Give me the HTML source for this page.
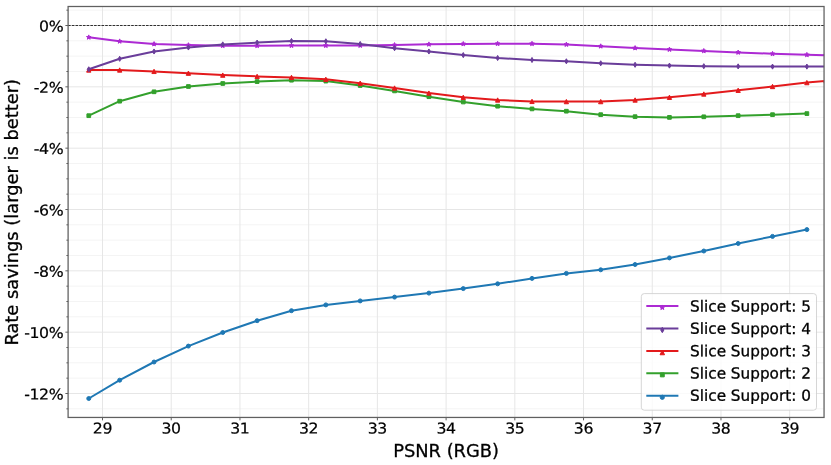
<!DOCTYPE html>
<html lang="en"><head><meta charset="utf-8"><title>Rate savings vs PSNR (RGB)</title>
<style>html,body{margin:0;padding:0;background:#fff;}body{width:831px;height:465px;overflow:hidden;}svg{display:block;}text{font-family:"DejaVu Sans","Liberation Sans",sans-serif;fill:#000;stroke:#000;stroke-width:0.3px;}.tk{font-size:14.9px;letter-spacing:-0.4px;stroke-width:0.22px;}.lg{font-size:15.25px;stroke-width:0.3px;}.lb{font-size:17.85px;}</style></head><body>
<svg width="831" height="465" viewBox="0 0 831 465">
<rect width="831" height="465" fill="#fff"/>
<defs><clipPath id="ax"><rect x="68.10" y="6.50" width="755.95" height="410.95"/></clipPath></defs>
<g clip-path="url(#ax)">
<path d="M68.10 10.17H824.05M68.10 40.83H824.05M68.10 56.17H824.05M68.10 71.50H824.05M68.10 102.17H824.05M68.10 117.50H824.05M68.10 132.83H824.05M68.10 163.50H824.05M68.10 178.84H824.05M68.10 194.17H824.05M68.10 224.84H824.05M68.10 240.17H824.05M68.10 255.50H824.05M68.10 286.17H824.05M68.10 301.50H824.05M68.10 316.84H824.05M68.10 347.50H824.05M68.10 362.84H824.05M68.10 378.17H824.05M68.10 408.84H824.05" stroke="#f4f4f4" stroke-width="1" fill="none"/>
<path d="M68.10 25.50H824.05M68.10 86.83H824.05M68.10 148.17H824.05M68.10 209.50H824.05M68.10 270.84H824.05M68.10 332.17H824.05M68.10 393.50H824.05M102.50 6.50V417.45M171.22 6.50V417.45M239.94 6.50V417.45M308.66 6.50V417.45M377.38 6.50V417.45M446.10 6.50V417.45M514.82 6.50V417.45M583.54 6.50V417.45M652.26 6.50V417.45M720.98 6.50V417.45M789.70 6.50V417.45" stroke="#e6e6e6" stroke-width="1" fill="none"/>
<path d="M68.10 25.50H824.05" stroke="#000" stroke-width="0.8" stroke-dasharray="2.6 1.11" fill="none"/>
<path d="M88.76 398.50 L119.68 380.20 L154.04 362.00 L188.40 346.10 L222.76 332.50 L257.12 320.70 L291.48 310.70 L325.84 304.90 L360.20 300.90 L394.56 297.10 L428.92 293.10 L463.28 288.60 L497.64 283.80 L532.00 278.40 L566.36 273.40 L600.72 269.80 L635.08 264.50 L669.44 257.90 L703.80 251.00 L738.16 243.50 L772.52 236.40 L806.88 229.60" stroke="#1f78b4" stroke-width="2.00" fill="none" stroke-linejoin="round" stroke-linecap="butt"/>
<path d="M86.76 398.50 a2.00 2.00 0 1 0 4.00 0 a2.00 2.00 0 1 0 -4.00 0ZM117.68 380.20 a2.00 2.00 0 1 0 4.00 0 a2.00 2.00 0 1 0 -4.00 0ZM152.04 362.00 a2.00 2.00 0 1 0 4.00 0 a2.00 2.00 0 1 0 -4.00 0ZM186.40 346.10 a2.00 2.00 0 1 0 4.00 0 a2.00 2.00 0 1 0 -4.00 0ZM220.76 332.50 a2.00 2.00 0 1 0 4.00 0 a2.00 2.00 0 1 0 -4.00 0ZM255.12 320.70 a2.00 2.00 0 1 0 4.00 0 a2.00 2.00 0 1 0 -4.00 0ZM289.48 310.70 a2.00 2.00 0 1 0 4.00 0 a2.00 2.00 0 1 0 -4.00 0ZM323.84 304.90 a2.00 2.00 0 1 0 4.00 0 a2.00 2.00 0 1 0 -4.00 0ZM358.20 300.90 a2.00 2.00 0 1 0 4.00 0 a2.00 2.00 0 1 0 -4.00 0ZM392.56 297.10 a2.00 2.00 0 1 0 4.00 0 a2.00 2.00 0 1 0 -4.00 0ZM426.92 293.10 a2.00 2.00 0 1 0 4.00 0 a2.00 2.00 0 1 0 -4.00 0ZM461.28 288.60 a2.00 2.00 0 1 0 4.00 0 a2.00 2.00 0 1 0 -4.00 0ZM495.64 283.80 a2.00 2.00 0 1 0 4.00 0 a2.00 2.00 0 1 0 -4.00 0ZM530.00 278.40 a2.00 2.00 0 1 0 4.00 0 a2.00 2.00 0 1 0 -4.00 0ZM564.36 273.40 a2.00 2.00 0 1 0 4.00 0 a2.00 2.00 0 1 0 -4.00 0ZM598.72 269.80 a2.00 2.00 0 1 0 4.00 0 a2.00 2.00 0 1 0 -4.00 0ZM633.08 264.50 a2.00 2.00 0 1 0 4.00 0 a2.00 2.00 0 1 0 -4.00 0ZM667.44 257.90 a2.00 2.00 0 1 0 4.00 0 a2.00 2.00 0 1 0 -4.00 0ZM701.80 251.00 a2.00 2.00 0 1 0 4.00 0 a2.00 2.00 0 1 0 -4.00 0ZM736.16 243.50 a2.00 2.00 0 1 0 4.00 0 a2.00 2.00 0 1 0 -4.00 0ZM770.52 236.40 a2.00 2.00 0 1 0 4.00 0 a2.00 2.00 0 1 0 -4.00 0ZM804.88 229.60 a2.00 2.00 0 1 0 4.00 0 a2.00 2.00 0 1 0 -4.00 0Z" fill="#1f78b4" stroke="#1f78b4" stroke-width="1.00" stroke-linejoin="miter"/>
<path d="M88.76 115.70 L119.68 101.20 L154.04 91.80 L188.40 86.50 L222.76 83.50 L257.12 81.60 L291.48 80.20 L325.84 81.10 L360.20 85.50 L394.56 90.90 L428.92 96.70 L463.28 102.00 L497.64 106.20 L532.00 108.90 L566.36 111.20 L600.72 114.70 L635.08 116.70 L669.44 117.40 L703.80 116.80 L738.16 115.70 L772.52 114.70 L806.88 113.60" stroke="#33a02c" stroke-width="2.00" fill="none" stroke-linejoin="round" stroke-linecap="butt"/>
<path d="M86.91 113.85 h3.70 v3.70 h-3.70ZM117.83 99.35 h3.70 v3.70 h-3.70ZM152.19 89.95 h3.70 v3.70 h-3.70ZM186.55 84.65 h3.70 v3.70 h-3.70ZM220.91 81.65 h3.70 v3.70 h-3.70ZM255.27 79.75 h3.70 v3.70 h-3.70ZM289.63 78.35 h3.70 v3.70 h-3.70ZM323.99 79.25 h3.70 v3.70 h-3.70ZM358.35 83.65 h3.70 v3.70 h-3.70ZM392.71 89.05 h3.70 v3.70 h-3.70ZM427.07 94.85 h3.70 v3.70 h-3.70ZM461.43 100.15 h3.70 v3.70 h-3.70ZM495.79 104.35 h3.70 v3.70 h-3.70ZM530.15 107.05 h3.70 v3.70 h-3.70ZM564.51 109.35 h3.70 v3.70 h-3.70ZM598.87 112.85 h3.70 v3.70 h-3.70ZM633.23 114.85 h3.70 v3.70 h-3.70ZM667.59 115.55 h3.70 v3.70 h-3.70ZM701.95 114.95 h3.70 v3.70 h-3.70ZM736.31 113.85 h3.70 v3.70 h-3.70ZM770.67 112.85 h3.70 v3.70 h-3.70ZM805.03 111.75 h3.70 v3.70 h-3.70Z" fill="#33a02c" stroke="#33a02c" stroke-width="1.00" stroke-linejoin="miter"/>
<path d="M88.76 70.00 L119.68 70.00 L154.04 71.40 L188.40 73.20 L222.76 75.10 L257.12 76.40 L291.48 77.40 L325.84 79.30 L360.20 83.20 L394.56 88.00 L428.92 93.10 L463.28 97.30 L497.64 100.00 L532.00 101.40 L566.36 101.60 L600.72 101.60 L635.08 100.00 L669.44 97.30 L703.80 94.00 L738.16 90.30 L772.52 86.50 L806.88 82.60 L826.00 80.82" stroke="#e31a1c" stroke-width="2.00" fill="none" stroke-linejoin="round" stroke-linecap="butt"/>
<path d="M88.76 67.85 L90.91 72.15 L86.61 72.15ZM119.68 67.85 L121.83 72.15 L117.53 72.15ZM154.04 69.25 L156.19 73.55 L151.89 73.55ZM188.40 71.05 L190.55 75.35 L186.25 75.35ZM222.76 72.95 L224.91 77.25 L220.61 77.25ZM257.12 74.25 L259.27 78.55 L254.97 78.55ZM291.48 75.25 L293.63 79.55 L289.33 79.55ZM325.84 77.15 L327.99 81.45 L323.69 81.45ZM360.20 81.05 L362.35 85.35 L358.05 85.35ZM394.56 85.85 L396.71 90.15 L392.41 90.15ZM428.92 90.95 L431.07 95.25 L426.77 95.25ZM463.28 95.15 L465.43 99.45 L461.13 99.45ZM497.64 97.85 L499.79 102.15 L495.49 102.15ZM532.00 99.25 L534.15 103.55 L529.85 103.55ZM566.36 99.45 L568.51 103.75 L564.21 103.75ZM600.72 99.45 L602.87 103.75 L598.57 103.75ZM635.08 97.85 L637.23 102.15 L632.93 102.15ZM669.44 95.15 L671.59 99.45 L667.29 99.45ZM703.80 91.85 L705.95 96.15 L701.65 96.15ZM738.16 88.15 L740.31 92.45 L736.01 92.45ZM772.52 84.35 L774.67 88.65 L770.37 88.65ZM806.88 80.45 L809.03 84.75 L804.73 84.75ZM826.00 78.67 L828.15 82.97 L823.85 82.97Z" fill="#e31a1c" stroke="#e31a1c" stroke-width="1.00" stroke-linejoin="miter"/>
<path d="M88.76 37.30 L119.68 41.30 L154.04 44.00 L188.40 45.10 L222.76 45.70 L257.12 45.70 L291.48 45.60 L325.84 45.60 L360.20 45.50 L394.56 45.00 L428.92 44.30 L463.28 43.90 L497.64 43.70 L532.00 43.70 L566.36 44.50 L600.72 46.20 L635.08 48.00 L669.44 49.50 L703.80 50.90 L738.16 52.40 L772.52 53.80 L806.88 54.80 L826.00 55.25" stroke="#ac2ad3" stroke-width="2.00" fill="none" stroke-linejoin="round" stroke-linecap="butt"/>
<path d="M88.76 34.90 L89.39 36.43 L91.04 36.56 L89.78 37.63 L90.17 39.24 L88.76 38.38 L87.35 39.24 L87.73 37.63 L86.47 36.56 L88.12 36.43ZM119.68 38.90 L120.31 40.43 L121.96 40.56 L120.71 41.63 L121.09 43.24 L119.68 42.38 L118.27 43.24 L118.65 41.63 L117.40 40.56 L119.05 40.43ZM154.04 41.60 L154.67 43.13 L156.32 43.26 L155.07 44.33 L155.45 45.94 L154.04 45.08 L152.63 45.94 L153.01 44.33 L151.76 43.26 L153.41 43.13ZM188.40 42.70 L189.03 44.23 L190.68 44.36 L189.43 45.43 L189.81 47.04 L188.40 46.18 L186.99 47.04 L187.37 45.43 L186.12 44.36 L187.77 44.23ZM222.76 43.30 L223.39 44.83 L225.04 44.96 L223.79 46.03 L224.17 47.64 L222.76 46.78 L221.35 47.64 L221.73 46.03 L220.48 44.96 L222.13 44.83ZM257.12 43.30 L257.75 44.83 L259.40 44.96 L258.15 46.03 L258.53 47.64 L257.12 46.78 L255.71 47.64 L256.09 46.03 L254.84 44.96 L256.49 44.83ZM291.48 43.20 L292.11 44.73 L293.76 44.86 L292.51 45.93 L292.89 47.54 L291.48 46.68 L290.07 47.54 L290.45 45.93 L289.20 44.86 L290.85 44.73ZM325.84 43.20 L326.47 44.73 L328.12 44.86 L326.87 45.93 L327.25 47.54 L325.84 46.68 L324.43 47.54 L324.81 45.93 L323.56 44.86 L325.21 44.73ZM360.20 43.10 L360.83 44.63 L362.48 44.76 L361.23 45.83 L361.61 47.44 L360.20 46.58 L358.79 47.44 L359.17 45.83 L357.92 44.76 L359.57 44.63ZM394.56 42.60 L395.19 44.13 L396.84 44.26 L395.59 45.33 L395.97 46.94 L394.56 46.08 L393.15 46.94 L393.53 45.33 L392.28 44.26 L393.93 44.13ZM428.92 41.90 L429.55 43.43 L431.20 43.56 L429.95 44.63 L430.33 46.24 L428.92 45.38 L427.51 46.24 L427.89 44.63 L426.64 43.56 L428.29 43.43ZM463.28 41.50 L463.91 43.03 L465.56 43.16 L464.31 44.23 L464.69 45.84 L463.28 44.98 L461.87 45.84 L462.25 44.23 L461.00 43.16 L462.65 43.03ZM497.64 41.30 L498.27 42.83 L499.92 42.96 L498.67 44.03 L499.05 45.64 L497.64 44.78 L496.23 45.64 L496.61 44.03 L495.36 42.96 L497.01 42.83ZM532.00 41.30 L532.63 42.83 L534.28 42.96 L533.03 44.03 L533.41 45.64 L532.00 44.78 L530.59 45.64 L530.97 44.03 L529.72 42.96 L531.37 42.83ZM566.36 42.10 L566.99 43.63 L568.64 43.76 L567.39 44.83 L567.77 46.44 L566.36 45.58 L564.95 46.44 L565.33 44.83 L564.08 43.76 L565.73 43.63ZM600.72 43.80 L601.35 45.33 L603.00 45.46 L601.75 46.53 L602.13 48.14 L600.72 47.28 L599.31 48.14 L599.69 46.53 L598.44 45.46 L600.09 45.33ZM635.08 45.60 L635.71 47.13 L637.36 47.26 L636.11 48.33 L636.49 49.94 L635.08 49.08 L633.67 49.94 L634.05 48.33 L632.80 47.26 L634.45 47.13ZM669.44 47.10 L670.07 48.63 L671.72 48.76 L670.47 49.83 L670.85 51.44 L669.44 50.58 L668.03 51.44 L668.41 49.83 L667.16 48.76 L668.81 48.63ZM703.80 48.50 L704.43 50.03 L706.08 50.16 L704.83 51.23 L705.21 52.84 L703.80 51.98 L702.39 52.84 L702.77 51.23 L701.52 50.16 L703.17 50.03ZM738.16 50.00 L738.79 51.53 L740.44 51.66 L739.19 52.73 L739.57 54.34 L738.16 53.48 L736.75 54.34 L737.13 52.73 L735.88 51.66 L737.53 51.53ZM772.52 51.40 L773.15 52.93 L774.80 53.06 L773.55 54.13 L773.93 55.74 L772.52 54.88 L771.11 55.74 L771.49 54.13 L770.24 53.06 L771.89 52.93ZM806.88 52.40 L807.51 53.93 L809.16 54.06 L807.91 55.13 L808.29 56.74 L806.88 55.88 L805.47 56.74 L805.85 55.13 L804.60 54.06 L806.25 53.93ZM826.00 52.85 L826.63 54.37 L828.28 54.50 L827.03 55.58 L827.41 57.19 L826.00 56.33 L824.59 57.19 L824.97 55.58 L823.72 54.50 L825.37 54.37Z" fill="#ac2ad3" stroke="#ac2ad3" stroke-width="1.00" stroke-linejoin="miter"/>
<path d="M88.76 69.30 L119.68 58.80 L154.04 51.50 L188.40 47.50 L222.76 44.40 L257.12 42.60 L291.48 41.00 L325.84 41.30 L360.20 44.00 L394.56 48.20 L428.92 51.50 L463.28 55.10 L497.64 58.00 L532.00 60.00 L566.36 61.30 L600.72 63.30 L635.08 64.80 L669.44 65.60 L703.80 66.20 L738.16 66.40 L772.52 66.60 L806.88 66.60 L826.00 66.49" stroke="#6a3d9a" stroke-width="2.00" fill="none" stroke-linejoin="round" stroke-linecap="butt"/>
<path d="M88.76 66.75 L90.29 69.30 L88.76 71.85 L87.23 69.30ZM119.68 56.25 L121.21 58.80 L119.68 61.35 L118.15 58.80ZM154.04 48.95 L155.57 51.50 L154.04 54.05 L152.51 51.50ZM188.40 44.95 L189.93 47.50 L188.40 50.05 L186.87 47.50ZM222.76 41.85 L224.29 44.40 L222.76 46.95 L221.23 44.40ZM257.12 40.05 L258.65 42.60 L257.12 45.15 L255.59 42.60ZM291.48 38.45 L293.01 41.00 L291.48 43.55 L289.95 41.00ZM325.84 38.75 L327.37 41.30 L325.84 43.85 L324.31 41.30ZM360.20 41.45 L361.73 44.00 L360.20 46.55 L358.67 44.00ZM394.56 45.65 L396.09 48.20 L394.56 50.75 L393.03 48.20ZM428.92 48.95 L430.45 51.50 L428.92 54.05 L427.39 51.50ZM463.28 52.55 L464.81 55.10 L463.28 57.65 L461.75 55.10ZM497.64 55.45 L499.17 58.00 L497.64 60.55 L496.11 58.00ZM532.00 57.45 L533.53 60.00 L532.00 62.55 L530.47 60.00ZM566.36 58.75 L567.89 61.30 L566.36 63.85 L564.83 61.30ZM600.72 60.75 L602.25 63.30 L600.72 65.85 L599.19 63.30ZM635.08 62.25 L636.61 64.80 L635.08 67.35 L633.55 64.80ZM669.44 63.05 L670.97 65.60 L669.44 68.15 L667.91 65.60ZM703.80 63.65 L705.33 66.20 L703.80 68.75 L702.27 66.20ZM738.16 63.85 L739.69 66.40 L738.16 68.95 L736.63 66.40ZM772.52 64.05 L774.05 66.60 L772.52 69.15 L770.99 66.60ZM806.88 64.05 L808.41 66.60 L806.88 69.15 L805.35 66.60ZM826.00 63.94 L827.53 66.49 L826.00 69.04 L824.47 66.49Z" fill="#6a3d9a" stroke="#6a3d9a" stroke-width="1.00" stroke-linejoin="miter"/>
</g>
<path d="M68.10 10.17h-1.70M68.10 25.50h-2.70M68.10 40.83h-1.70M68.10 56.17h-1.70M68.10 71.50h-1.70M68.10 86.83h-2.70M68.10 102.17h-1.70M68.10 117.50h-1.70M68.10 132.83h-1.70M68.10 148.17h-2.70M68.10 163.50h-1.70M68.10 178.84h-1.70M68.10 194.17h-1.70M68.10 209.50h-2.70M68.10 224.84h-1.70M68.10 240.17h-1.70M68.10 255.50h-1.70M68.10 270.84h-2.70M68.10 286.17h-1.70M68.10 301.50h-1.70M68.10 316.84h-1.70M68.10 332.17h-2.70M68.10 347.50h-1.70M68.10 362.84h-1.70M68.10 378.17h-1.70M68.10 393.50h-2.70M68.10 408.84h-1.70M102.50 417.45v2.9M171.22 417.45v2.9M239.94 417.45v2.9M308.66 417.45v2.9M377.38 417.45v2.9M446.10 417.45v2.9M514.82 417.45v2.9M583.54 417.45v2.9M652.26 417.45v2.9M720.98 417.45v2.9M789.70 417.45v2.9" stroke="#606060" stroke-width="1" fill="none"/>
<rect x="68.10" y="6.50" width="755.95" height="410.95" fill="none" stroke="#606060" stroke-width="1.27"/>
<text class="tk" transform="translate(63.15 31.40) rotate(0.03) scale(1.055 1)" text-anchor="end">0%</text>
<text class="tk" transform="translate(63.15 92.73) rotate(0.03) scale(1.055 1)" text-anchor="end">-2%</text>
<text class="tk" transform="translate(63.15 154.07) rotate(0.03) scale(1.055 1)" text-anchor="end">-4%</text>
<text class="tk" transform="translate(63.15 215.40) rotate(0.03) scale(1.055 1)" text-anchor="end">-6%</text>
<text class="tk" transform="translate(63.15 276.74) rotate(0.03) scale(1.055 1)" text-anchor="end">-8%</text>
<text class="tk" transform="translate(63.15 338.07) rotate(0.03) scale(1.055 1)" text-anchor="end">-10%</text>
<text class="tk" transform="translate(63.15 399.40) rotate(0.03) scale(1.055 1)" text-anchor="end">-12%</text>
<text class="tk" transform="translate(102.40 433.5) rotate(0.03) scale(1.055 1)" text-anchor="middle">29</text>
<text class="tk" transform="translate(171.12 433.5) rotate(0.03) scale(1.055 1)" text-anchor="middle">30</text>
<text class="tk" transform="translate(239.84 433.5) rotate(0.03) scale(1.055 1)" text-anchor="middle">31</text>
<text class="tk" transform="translate(308.56 433.5) rotate(0.03) scale(1.055 1)" text-anchor="middle">32</text>
<text class="tk" transform="translate(377.28 433.5) rotate(0.03) scale(1.055 1)" text-anchor="middle">33</text>
<text class="tk" transform="translate(446.00 433.5) rotate(0.03) scale(1.055 1)" text-anchor="middle">34</text>
<text class="tk" transform="translate(514.72 433.5) rotate(0.03) scale(1.055 1)" text-anchor="middle">35</text>
<text class="tk" transform="translate(583.44 433.5) rotate(0.03) scale(1.055 1)" text-anchor="middle">36</text>
<text class="tk" transform="translate(652.16 433.5) rotate(0.03) scale(1.055 1)" text-anchor="middle">37</text>
<text class="tk" transform="translate(720.88 433.5) rotate(0.03) scale(1.055 1)" text-anchor="middle">38</text>
<text class="tk" transform="translate(789.60 433.5) rotate(0.03) scale(1.055 1)" text-anchor="middle">39</text>
<text class="lb" x="446.1" y="456.5" text-anchor="middle">PSNR (RGB)</text>
<text class="lb" transform="translate(17.85 212.3) rotate(-90)" text-anchor="middle">Rate savings (larger is better)</text>
<rect x="641.3" y="293.6" width="175.2" height="116.6" rx="3" ry="3" fill="#fff" fill-opacity="0.8" stroke="#ccc" stroke-opacity="0.8" stroke-width="1"/>
<path d="M646.3 305.90H678.4" stroke="#ac2ad3" stroke-width="2.00" fill="none"/>
<path d="M662.30 304.98 L662.97 306.58 L664.70 306.72 L663.38 307.85 L663.78 309.54 L662.30 308.63 L660.82 309.54 L661.22 307.85 L659.90 306.72 L661.63 306.58Z" fill="#ac2ad3" stroke="#ac2ad3" stroke-width="1"/>
<text class="lg" x="690.1" y="311.55" transform="rotate(0.03 690.1 311.55)">Slice Support: 5</text>
<path d="M646.3 328.40H678.4" stroke="#6a3d9a" stroke-width="2.00" fill="none"/>
<path d="M662.30 327.32 L663.91 330.00 L662.30 332.68 L660.69 330.00Z" fill="#6a3d9a" stroke="#6a3d9a" stroke-width="1"/>
<text class="lg" x="690.1" y="333.85" transform="rotate(0.03 690.1 333.85)">Slice Support: 4</text>
<path d="M646.3 350.90H678.4" stroke="#e31a1c" stroke-width="2.00" fill="none"/>
<path d="M662.30 350.24 L664.56 354.76 L660.04 354.76Z" fill="#e31a1c" stroke="#e31a1c" stroke-width="1"/>
<text class="lg" x="690.1" y="356.15" transform="rotate(0.03 690.1 356.15)">Slice Support: 3</text>
<path d="M646.3 373.30H678.4" stroke="#33a02c" stroke-width="2.00" fill="none"/>
<path d="M660.36 372.96 h3.89 v3.89 h-3.89Z" fill="#33a02c" stroke="#33a02c" stroke-width="1"/>
<text class="lg" x="690.1" y="378.45" transform="rotate(0.03 690.1 378.45)">Slice Support: 2</text>
<path d="M646.3 395.70H678.4" stroke="#1f78b4" stroke-width="2.00" fill="none"/>
<path d="M660.20 397.30 a2.10 2.10 0 1 0 4.20 0 a2.10 2.10 0 1 0 -4.20 0Z" fill="#1f78b4" stroke="#1f78b4" stroke-width="1"/>
<text class="lg" x="690.1" y="400.75" transform="rotate(0.03 690.1 400.75)">Slice Support: 0</text>
</svg></body></html>
